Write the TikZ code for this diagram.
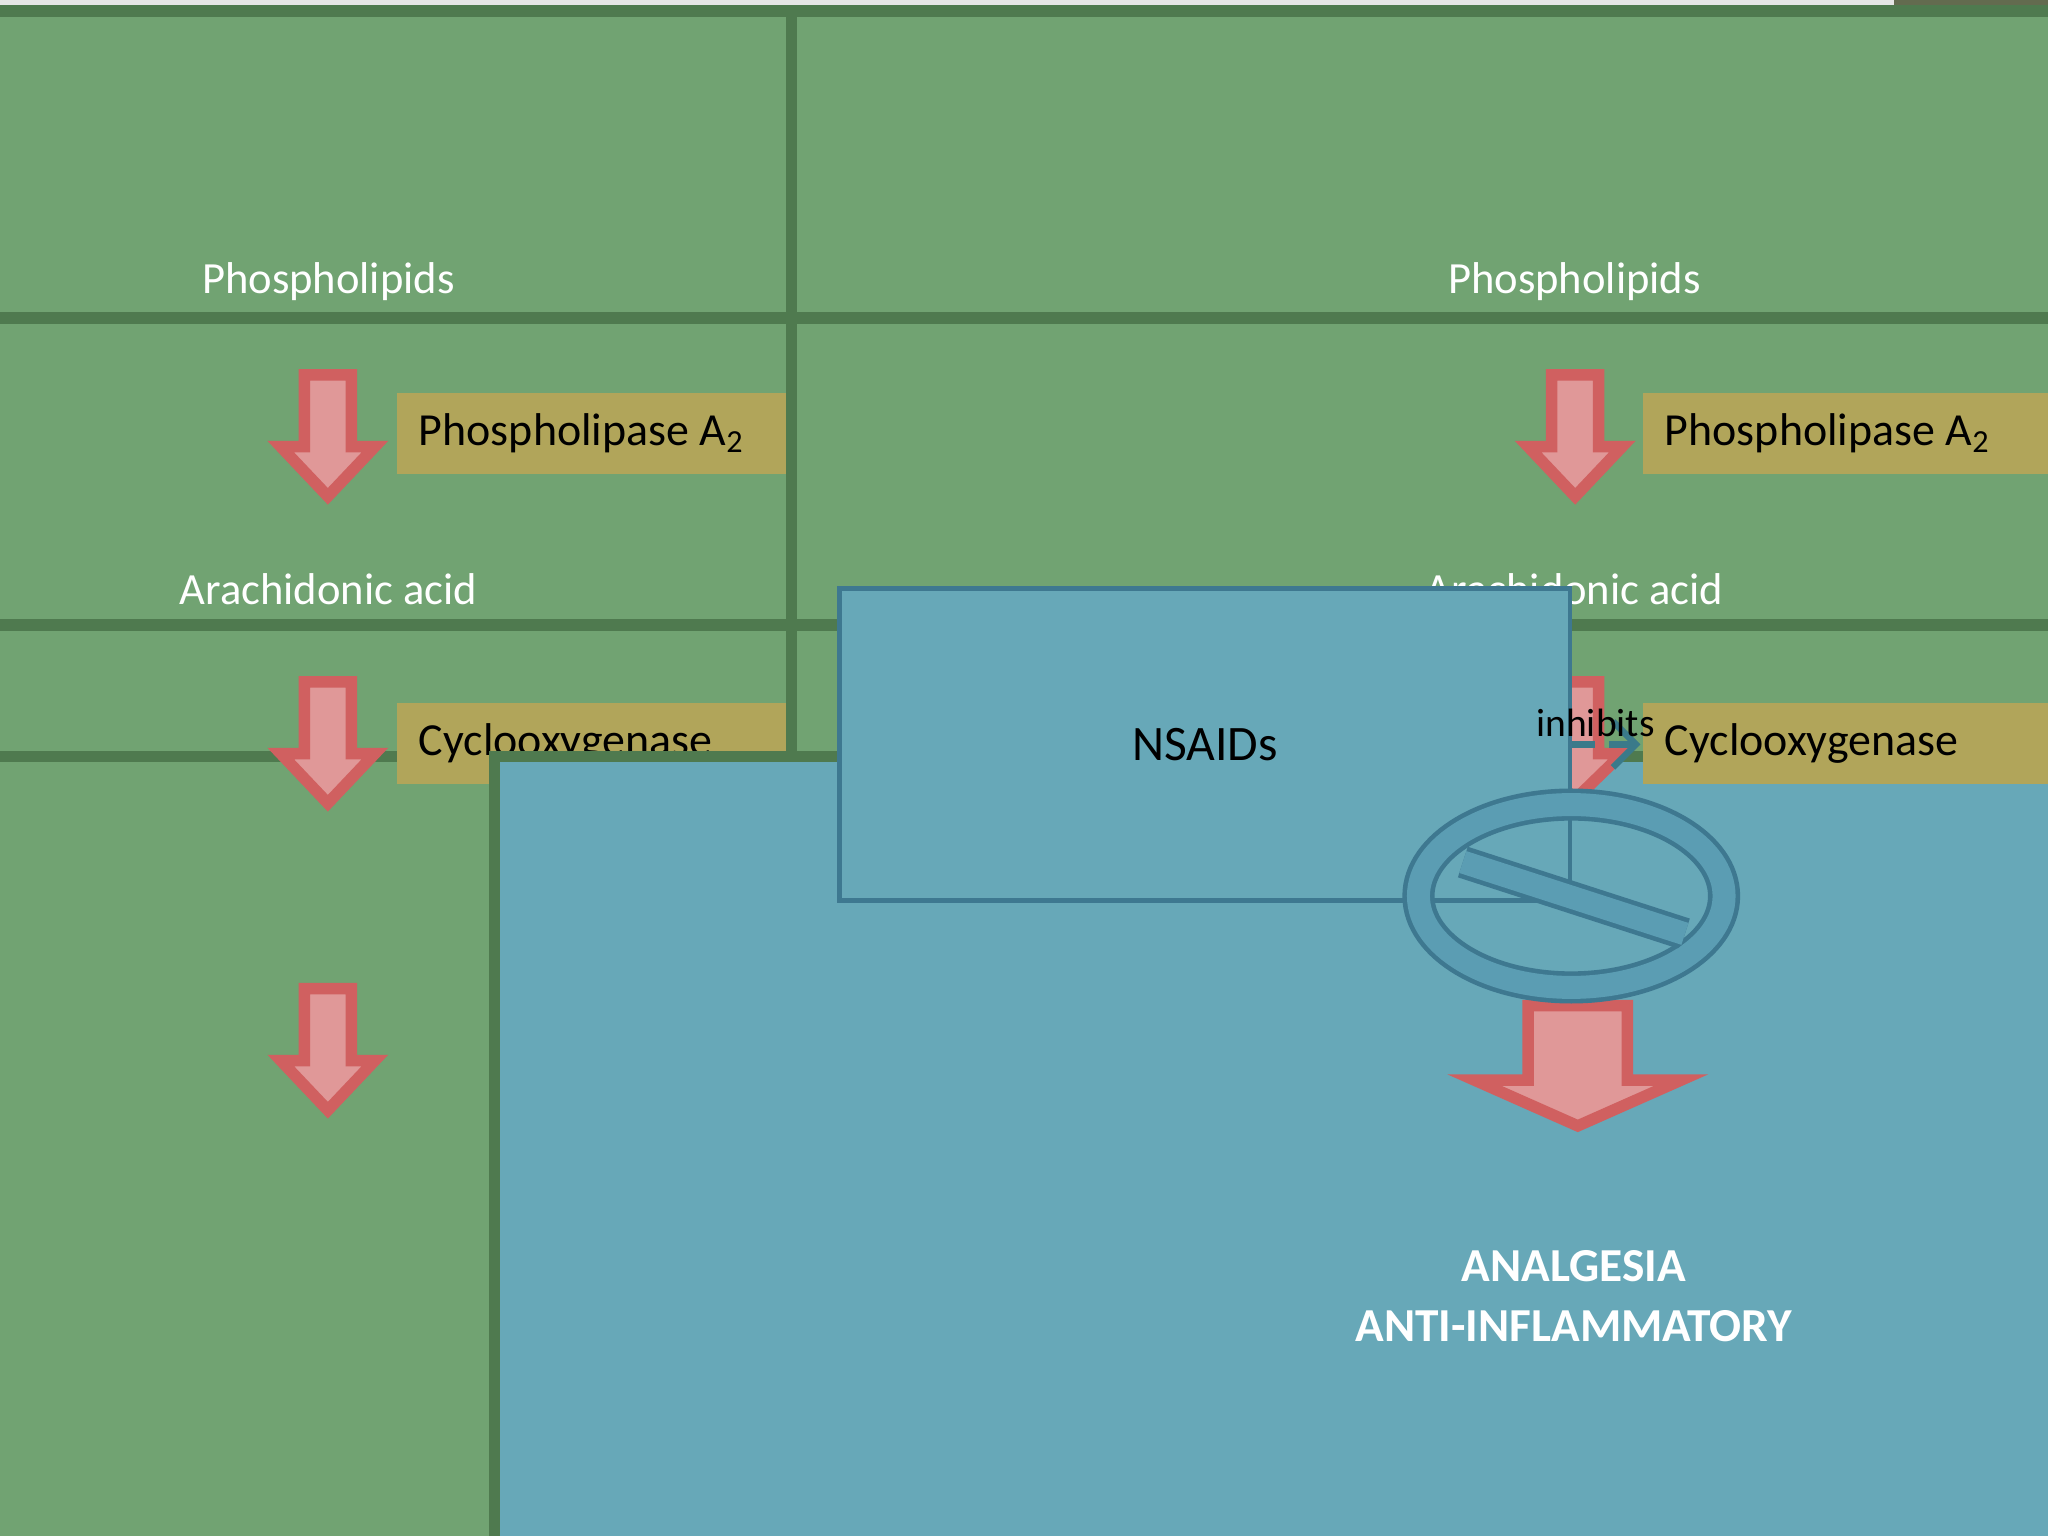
\documentclass[tikz,border=0pt]{standalone}
\usepackage{fontspec}
\usetikzlibrary{arrows.meta}
\setmainfont{Carlito}
\newfontfamily\titlefont{Liberation Serif}
\definecolor{boxgreen}{HTML}{71A372}
\definecolor{boxedge}{HTML}{4F7A4F}
\definecolor{gold}{HTML}{B1A55A}
\definecolor{pinkf}{HTML}{E09898}
\definecolor{pinke}{HTML}{D06060}
\definecolor{blueb}{HTML}{67A8B8}
\definecolor{olive}{HTML}{636B4F}
\definecolor{titlec}{HTML}{5E6450}
\definecolor{dashc}{HTML}{3A7A8A}
\definecolor{ringc}{HTML}{5B9DB3}
\definecolor{ringe}{HTML}{3E7890}
\newcommand\pinkarrow[6]{%
 \draw[pinke,fill=pinkf,line width=2.5pt,line join=miter]
 (#1-#5,#2)--(#1+#5,#2)--(#1+#5,#3)--(#1+#6,#3)--(#1,#4)--(#1-#6,#3)--(#1-#5,#3)--cycle;}
\begin{document}
\begin{tikzpicture}[x=0.01cm,y=-0.01cm,
 gbox/.style={draw=boxedge,fill=boxgreen,line width=2.5pt,text=white,font=\fontsize{9.7}{11.6}\selectfont},
 gold/.style={fill=gold,text=black,font=\fontsize{10}{12}\selectfont,anchor=west,inner sep=0pt},
 ]
\useasboundingbox (0,0) rectangle (1568,1176);
\shade[top color=black!10,bottom color=white,middle color=white] (0,0) rectangle (1450,1176);
\fill[olive] (1450,0) rectangle (1568,1176);
\fill[boxgreen] (1450,940) rectangle (1568,1058);
\node[text=titlec,font=\titlefont\fontsize{26}{30}\selectfont] (title) at (742,90) {Mechanism of action: NSAIDs};
\draw[line width=2.3pt,color=black!85!red] (718,145) -- (718,1176);
% left column
\node[gbox,minimum width=341,minimum height=118] (lp) at (251.5,216) {Phospholipids};
\node[gbox,minimum width=341,minimum height=118] (la) at (251.5,451) {Arachidonic acid};
\node[gbox,minimum width=341,minimum height=118] (lg) at (251.5,686) {Prostaglandins};
\node[gbox,minimum width=472,minimum height=235,align=left,text width=440,font=\fontsize{10.3}{13.2}\selectfont] (lh) at (251,992.5)
 {\textbf{Hyperalgesia} \ensuremath{\rightarrow} sensitize\\nerve endings to pain \&\\mediators of inflammation};
\fill[gold] (304,301) rectangle (613,363);
\node[gold] (lpa) at (320,332) {Phospholipase A\textsubscript{2}};
\fill[gold] (304,538) rectangle (613,600);
\node[gold] (lcox) at (320,569) {Cyclooxygenase};
\pinkarrow{251}{287}{342}{380}{18}{36}
\pinkarrow{251}{522}{577}{615}{18}{36}
\pinkarrow{251}{757}{812}{850}{18}{36}
% right column
\node[gbox,minimum width=341,minimum height=118] (rp) at (1205.5,216) {Phospholipids};
\node[gbox,minimum width=341,minimum height=118] (ra) at (1205.5,451) {Arachidonic acid};
\node[gbox,minimum width=341,minimum height=118] (rg) at (1205.5,686) {Prostaglandins};
\node[draw=boxedge,fill=blueb,line width=2.5pt,minimum width=470,minimum height=235,text=white,align=center,font=\bfseries\fontsize{10.3}{13.2}\selectfont] (rn) at (1205,992.5) {ANALGESIA\\ANTI-INFLAMMATORY};
\fill[gold] (1258,301) rectangle (1568,363);
\node[gold] (rpa) at (1274,332) {Phospholipase A\textsubscript{2}};
\fill[gold] (1258,538) rectangle (1568,600);
\node[gold] (rcox) at (1274,569) {Cyclooxygenase};
\pinkarrow{1206}{287}{342}{380}{18}{36}
\pinkarrow{1206}{522}{577}{612}{18}{36}
\pinkarrow{1208}{770}{827}{862}{38}{79}
\node[draw=ringe,fill=blueb,line width=1pt,minimum width=159,minimum height=68,font=\fontsize{10.8}{13}\selectfont] (ns) at (922.5,570) {NSAIDs};
\coordinate (tip) at (1256,570);
\draw[dashc,line width=1.4pt,dash pattern=on 5pt off 3pt,-{Straight Barb[length=5pt]}] (ns.east) -- node[above,text=black,font=\fontsize{8.6}{10}\selectfont,pos=0.34,inner sep=1pt] {inhibits} (tip);
% no symbol
\draw[ringe,line width=7pt] (1203,686) ellipse (117 and 70);
\draw[ringc,line width=5pt] (1203,686) ellipse (117 and 70);
\begin{scope}
\clip (1203,686) ellipse (108 and 61);
\draw[ringe,line width=7pt] (1120,660) -- (1290,715);
\draw[ringc,line width=5pt] (1120,660) -- (1290,715);
\end{scope}
\end{tikzpicture}
\end{document}
